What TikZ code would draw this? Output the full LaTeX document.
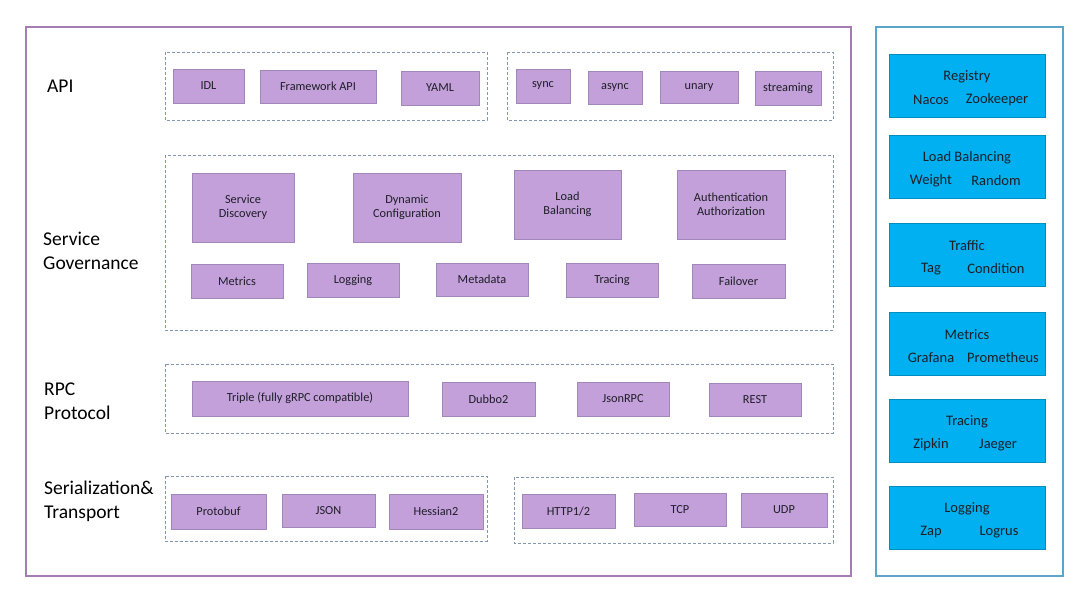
\documentclass[tikz,border=0pt]{standalone}
\usepackage{fontspec}
\setmainfont{Carlito}
\definecolor{layeredge}{RGB}{165,125,180}
\definecolor{sideedge}{RGB}{90,165,200}
\definecolor{grpedge}{RGB}{130,150,178}
\definecolor{boxfill}{RGB}{195,160,218}
\definecolor{boxedge}{RGB}{160,135,185}
\definecolor{sidefill}{RGB}{0,176,240}
\definecolor{ink}{RGB}{30,30,40}

\begin{document}
\begin{tikzpicture}[x=1pt, y=-1pt,
  pbox/.style={draw=boxedge, fill=boxfill, line width=0.6pt, inner sep=1pt,
    align=center, text=ink, font=\fontsize{12.3}{14}\selectfont},
  sz/.style 2 args={minimum width=#1pt, minimum height=#2pt},
  bbox/.style={draw=sidefill!80!black, fill=sidefill, line width=0.4pt,
    minimum width=156pt, minimum height=63pt},
  btxt/.style={text=ink, font=\fontsize{14.5}{16}\selectfont, inner sep=0pt},
  grp/.style={draw=grpedge, line width=0.7pt, dash pattern=on 3pt off 2pt},
  layer/.style={anchor=west, align=left, text=black, inner sep=0pt,
    font=\fontsize{19.5}{24}\selectfont}]
\useasboundingbox (0,0) rectangle (1080,590);

% frames
\draw[layeredge, line width=1.4pt] (26,27) rectangle (851,576);
\draw[sideedge, line width=1.2pt] (876,27) rectangle (1063,576);

% API
\node[layer] (api) at (47,86) {API};
\draw[grp] (165,52) rectangle (487,120);
\draw[grp] (507,52) rectangle (833,120);
\node[pbox, sz={71}{34}] (idl) at (208.5,86) {IDL};
\node[pbox, sz={116}{33}] (fwapi) at (318,86.5) {Framework API};
\node[pbox, sz={78}{34}] (yaml) at (440,88) {YAML};
\node[pbox, sz={54}{34}] (sync) at (543,86) {sync};
\node[pbox, sz={54}{33}] (async) at (615,87.5) {async};
\node[pbox, sz={78}{32}] (unary) at (699,87) {unary};
\node[pbox, sz={66}{34}] (stream) at (788,88) {streaming};

% Service Governance
\node[layer] (gov) at (43,251) {Service\\Governance};
\draw[grp] (165,155) rectangle (833,330);
\node[pbox, sz={102}{69}] (disc) at (243,207.5) {Service\\Discovery};
\node[pbox, sz={108}{69}] (dyncfg) at (407,207.5) {Dynamic\\Configuration};
\node[pbox, sz={107}{69}] (lb) at (567.5,204.5) {Load\\Balancing};
\node[pbox, sz={108}{69}] (auth) at (731,204.5) {Authentication\\Authorization};
\node[pbox, sz={92}{34}] (metrics) at (237,281) {Metrics};
\node[pbox, sz={92}{34}] (logging) at (353,280) {Logging};
\node[pbox, sz={92}{33}] (meta) at (482,279.5) {Metadata};
\node[pbox, sz={92}{34}] (tracing) at (612,280) {Tracing};
\node[pbox, sz={93}{34}] (failover) at (738.5,281) {Failover};

% RPC Protocol
\node[layer] (rpc) at (44,401.5) {RPC\\Protocol};
\draw[grp] (165,364) rectangle (833,433);
\node[pbox, sz={216}{35}] (triple) at (300,398.5) {Triple (fully gRPC compatible)};
\node[pbox, sz={93}{34}] (dubbo) at (488.5,399) {Dubbo2};
\node[pbox, sz={92}{34}] (jsonrpc) at (623,399) {JsonRPC};
\node[pbox, sz={92}{33}] (rest) at (755,399.5) {REST};

% Serialization & Transport
\node[layer] (serial) at (44,501.5) {Serialization\&\\Transport};
\draw[grp] (165,476) rectangle (487,541);
\draw[grp] (514,477) rectangle (833,543);
\node[pbox, sz={95}{35}] (pb) at (218.5,511.5) {Protobuf};
\node[pbox, sz={93}{33}] (json) at (328.5,510.5) {JSON};
\node[pbox, sz={94}{35}] (hessian) at (436,511.5) {Hessian2};
\node[pbox, sz={93}{34}] (http) at (568.5,511) {HTTP1/2};
\node[pbox, sz={92}{33}] (tcp) at (680,509.5) {TCP};
\node[pbox, sz={86}{34}] (udp) at (784,510) {UDP};

% side components
\foreach \n/\t/\ttl/\a/\b/\bx in {reg/54/Registry/Nacos/Zookeeper/997,
    slb/135/Load Balancing/Weight/Random/996,
    traffic/223/Traffic/Tag/Condition/996,
    smetrics/312/Metrics/Grafana/Prometheus/1003,
    stracing/399/Tracing/Zipkin/Jaeger/998,
    slogging/486/Logging/Zap/Logrus/999}{
  \node[bbox] (\n) at (967,\t+31.5) {};
  \node[btxt] (\n-title) at (967,\t+23) {\ttl};
  \node[btxt] (\n-a) at (931,\t+46) {\a};
  \node[btxt] (\n-b) at (\bx,\t+46) {\b};
}
\end{tikzpicture}
\end{document}
